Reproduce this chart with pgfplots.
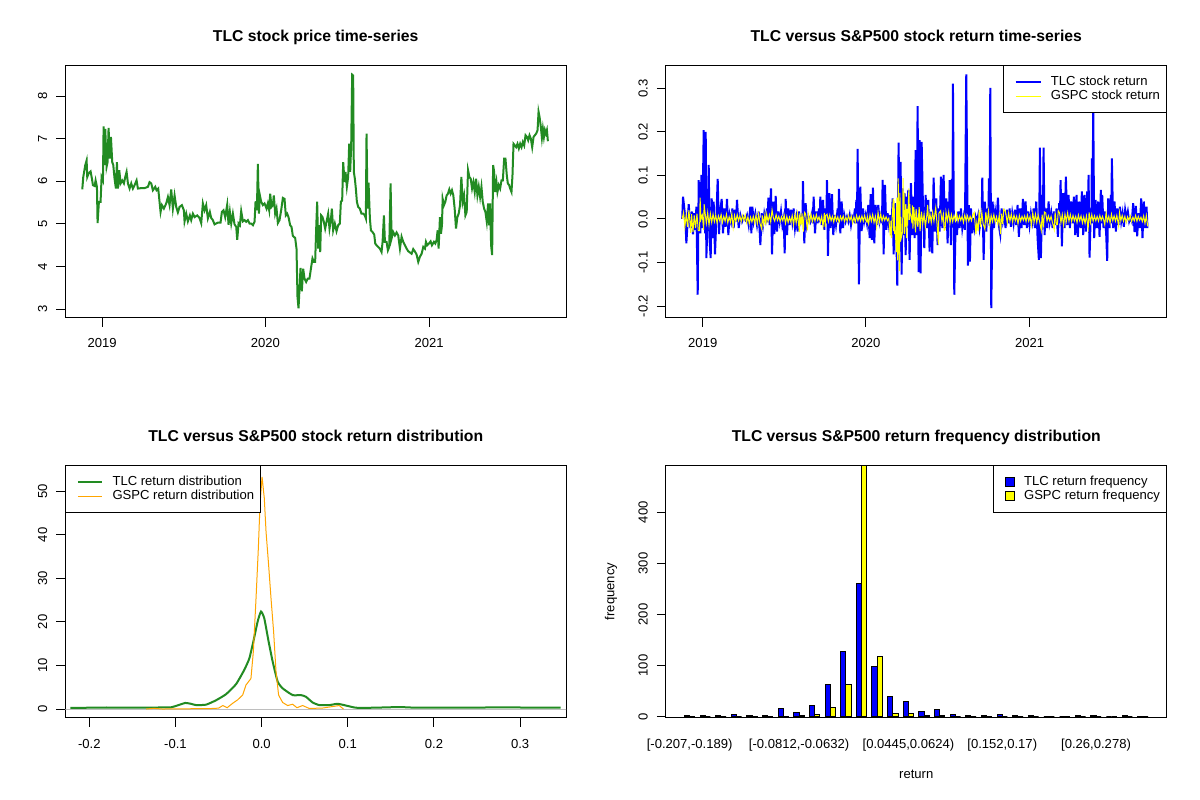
\documentclass[border=0pt]{standalone}
\usepackage{fontspec}
\setmainfont{Liberation Sans}
\usepackage{pgfplots}
\pgfplotsset{compat=1.18}
\definecolor{fgreen}{RGB}{34,139,34}
\definecolor{rorange}{RGB}{255,165,0}
\definecolor{rgray}{RGB}{190,190,190}
\definecolor{ryellow}{RGB}{255,255,0}
\definecolor{rblue}{RGB}{0,0,255}
\pgfplotsset{
  rp/.style={
    scale only axis, width=375.6pt, height=189.3pt, anchor=south west,
    axis line style={line width=0.75pt, black},
    tick style={line width=0.75pt, black},
    tick align=outside, tick pos=left, major tick length=6.75pt,
    tick label style={font=\fontsize{9.8}{11.8}\selectfont},
    xticklabel style={anchor=base},
    xticklabel shift=15.95pt,
    yticklabel style={rotate=90, anchor=base},
    yticklabel shift=7.0pt,
    title style={font=\fontsize{11.8}{14}\selectfont\bfseries, at={(0.5,1.0629)}, anchor=base, yshift=0pt},
    legend style={font=\fontsize{9.8}{11.8}\selectfont, draw=black, line width=0.75pt, fill=white,
      inner xsep=2.7pt, inner ysep=5.8pt, row sep=-2pt, column sep=5pt},
    legend cell align=left,
  },
}
\begin{document}
\begin{tikzpicture}
\path[use as bounding box, fill=white] (0,0) rectangle (900pt,600pt);

% ---------- Panel 1 ----------
\begin{axis}[rp, at={(49.0pt,361.7pt)},
  xmin=-82.5, xmax=1037.5, ymin=2.80, ymax=8.72,
  xtick={0,365,731}, xticklabels={2019,2020,2021},
  ytick={3,4,5,6,7,8}, yticklabels={3,4,5,6,7,8},
  title={TLC stock price time-series}]
\addplot[fgreen, line width=1.5pt, sharp plot] coordinates {
(-44.6,5.81) (-42.4,6.10) (-37.9,6.38) (-34.9,6.49) (-33.5,6.10) (-30.5,6.18) (-26.0,6.23) (-23.0,6.06) (-20.8,5.91) (-17.0,5.89) (-14.8,6.02) (-11.8,5.87) (-10.4,5.02) (-7.4,5.52) (-3.7,5.52) (-1.4,6.10) (1.6,6.02) (3.1,7.29) (5.3,6.38) (6.8,7.23) (9.8,6.34) (12.0,6.45) (14.2,7.25) (17.2,6.53) (19.5,7.04) (22.4,6.45) (24.7,6.38) (27.6,6.06) (30.6,5.83) (32.9,6.45) (35.1,5.83) (38.1,6.26) (41.1,5.95) (44.8,6.02) (48.5,5.95) (51.5,6.10) (54.5,6.22) (57.5,5.95) (61.2,5.83) (64.9,5.95) (68.6,5.83) (72.4,5.91) (76.8,6.02) (79.8,5.83) (87.3,5.84) (94.7,5.84) (102.2,5.87) (105.9,5.98) (109.6,5.95) (113.3,5.79) (118.6,5.87) (121.5,5.79) (125.2,5.83) (127.5,5.59) (130.5,5.28) (133.5,5.44) (137.9,5.36) (143.1,5.48) (146.9,5.63) (150.6,5.44) (154.3,5.81) (158.0,5.36) (161.8,5.67) (165.5,5.40) (169.2,5.27) (173.0,5.40) (178.2,5.44) (182.6,5.32) (184.1,5.06) (187.9,5.24) (191.6,5.06) (196.0,5.20) (199.0,5.09) (202.8,5.24) (206.5,5.16) (212.4,5.20) (217.6,5.14) (221.4,5.02) (225.1,5.48) (228.8,5.32) (232.5,5.44) (236.3,5.13) (240.7,5.28) (243.7,5.14) (247.4,5.09) (251.2,4.99) (258.6,5.03) (264.6,5.03) (267.6,5.28) (271.3,5.32) (275.0,5.16) (279.5,5.45) (282.5,4.98) (285.5,5.28) (288.5,5.01) (292.2,5.24) (295.9,4.99) (299.7,4.93) (301.9,4.63) (304.9,5.01) (307.9,4.97) (310.8,5.30) (314.6,5.06) (318.3,5.09) (322.0,5.05) (325.8,5.09) (329.5,5.01) (333.2,5.01) (337.0,4.97) (340.7,5.05) (342.9,5.53) (345.9,5.32) (348.1,6.41) (350.4,5.24) (352.6,5.67) (355.5,5.52) (359.3,5.44) (363.0,5.48) (367.5,5.36) (370.4,5.48) (373.4,5.32) (375.6,5.71) (378.6,5.40) (381.6,5.44) (383.8,5.67) (386.8,5.24) (389.8,5.36) (392.8,5.02) (396.5,5.09) (400.2,5.32) (404.0,5.61) (407.7,5.59) (410.6,5.20) (413.6,5.24) (416.6,5.16) (420.3,4.97) (423.3,4.93) (426.3,4.72) (431.5,4.67) (434.5,4.42) (436.7,3.29) (439.0,3.02) (441.2,3.48) (443.5,3.97) (446.4,3.42) (449.4,3.95) (452.4,3.72) (456.1,3.64) (459.8,3.72) (463.5,3.72) (467.3,3.99) (470.2,4.19) (473.2,4.11) (476.2,4.11)
(478.5,4.89) (480.7,5.52) (483.0,4.42) (485.2,4.97) (487.5,4.34) (489.7,5.20) (492.7,5.16) (495.6,5.05) (498.6,4.89) (501.6,5.05) (505.3,5.24) (508.3,4.89) (511.3,5.09) (513.6,5.36) (516.5,4.85) (520.2,5.01) (524.0,4.83) (527.7,4.97) (531.4,5.01) (533.7,5.52) (536.6,5.55) (538.9,6.45) (541.9,5.98) (544.1,6.22) (547.1,5.87) (550.0,6.10) (552.3,6.88) (554.5,6.22) (556.8,6.84) (559.0,8.50) (561.2,8.48) (562.7,6.22) (565.0,6.06) (567.2,5.83) (569.5,5.52) (572.4,5.40) (576.1,5.36) (579.9,5.24) (583.6,5.24) (587.3,5.20) (589.6,5.13) (591.1,7.12) (593.4,5.36) (595.6,5.97) (598.6,5.13) (600.9,4.85) (604.6,4.81) (608.3,4.75) (610.6,4.54) (613.5,4.50) (617.3,4.46) (621.0,4.42) (624.7,4.34) (627.0,4.58) (630.0,5.20) (632.2,4.58) (635.9,4.58) (638.9,4.38) (641.9,4.46) (644.9,5.95) (647.1,4.66) (650.8,4.81) (654.6,4.73) (658.3,4.80) (662.0,4.73) (665.8,4.42) (669.5,4.70) (673.2,4.58) (677.0,4.50) (680.7,4.42) (684.4,4.36) (688.2,4.33) (691.9,4.30) (695.6,4.41) (700.1,4.34) (703.1,4.28) (706.8,4.11) (710.5,4.23) (714.3,4.30) (718.0,4.46) (721.7,4.42) (724.0,4.58) (727.0,4.50) (730.7,4.54) (734.4,4.59) (737.4,4.50) (741.9,4.58) (744.9,4.54) (747.8,4.62) (750.1,4.85) (752.3,4.42) (755.3,5.16) (757.6,4.77) (759.8,4.97) (761.3,5.59) (764.3,5.44) (767.3,5.52) (770.3,5.67) (773.2,5.71) (776.2,5.81) (779.2,5.71) (782.2,5.79) (785.2,5.67) (788.2,5.36) (791.2,4.89) (794.2,5.16) (797.2,5.24) (800.2,5.44) (803.2,6.10) (806.2,5.52) (809.2,5.67) (812.2,5.20) (815.1,5.28) (818.1,6.26) (821.1,6.10) (824.1,6.06) (827.1,5.83) (830.1,5.98) (833.1,5.75) (836.1,6.06) (839.1,5.67) (842.1,5.87) (845.1,5.63) (848.1,5.87) (851.0,5.52) (854.0,5.36) (857.0,5.28) (860.0,5.05) (863.0,5.48) (865.2,4.97) (867.5,5.48) (869.7,4.50) (872.0,4.27) (874.2,6.38) (876.5,6.22) (878.7,5.75) (881.7,5.98) (883.9,5.75) (886.9,5.91) (889.9,5.83) (892.9,6.02) (895.9,6.02) (898.9,6.53) (901.8,6.53) (904.8,6.14) (907.1,5.95) (910.1,5.91) (912.3,5.83) (915.3,5.75) (917.5,6.14) (919.8,6.88) (922.8,6.84) (925.7,6.80) (928.7,6.88) (931.7,6.77) (934.7,6.88) (937.7,6.80) (940.7,6.92) (943.7,6.84) (946.7,7.08) (949.7,7.04) (952.6,6.96) (955.6,7.08) (958.6,7.00) (961.6,6.80) (964.6,7.04) (967.6,7.08) (970.6,7.12) (973.6,7.20) (975.8,7.63) (978.0,7.51) (981.0,7.27) (983.3,7.02) (985.5,7.23) (987.8,7.04) (990.0,7.20) (992.3,7.12) (994.5,7.20) (996.7,6.94)
};
\end{axis}

% ---------- Panel 2 ----------
\begin{axis}[rp, at={(499.4pt,361.7pt)},
  xmin=-82.5, xmax=1037.5, ymin=-0.2268, ymax=0.3528,
  xtick={0,365,731}, xticklabels={2019,2020,2021},
  ytick={-0.2,-0.1,0,0.1,0.2,0.3}, yticklabels={-0.2,-0.1,0.0,0.1,0.2,0.3},
  title={TLC versus S\&P500 stock return time-series},
  legend style={at={(1,1)}, anchor=north east},
  legend image code/.code={\path[draw=none,fill=none] (0pt,-2pt) rectangle (25pt,1pt); \draw[#1] (6.3pt,0pt) -- (25pt,0pt);}]
\addplot[rblue, line width=1.5pt, sharp plot] coordinates {
(-46,0.000) (-44.1,0.051) (-38.9,0.002) (-36.7,-0.056) (-31.4,0.034) (-27.7,-0.021) (-24.0,0.017) (-21.8,-0.035) (-18.8,0.013) (-16.5,-0.025) (-14.3,0.028) (-11.3,-0.174) (-9.1,0.089) (-5.4,-0.033) (-3.1,0.101) (-0.9,-0.021) (2.1,0.204) (5.1,-0.033) (6.6,0.200) (8.0,-0.090) (11.0,0.002) (13.3,0.124) (15.5,-0.052) (17.7,-0.090) (20.0,0.047) (22.2,-0.044) (24.4,0.040) (27.4,-0.081) (30.4,0.002) (33.4,0.092) (36.4,-0.035) (38.6,0.013) (42.3,0.046) (45.3,-0.033) (48.3,0.024) (51.3,-0.018) (54.2,0.046) (57.2,-0.037) (60.2,0.009) (63.2,-0.006) (66.2,0.024) (69.1,-0.021) (71.4,0.021) (74.4,-0.006) (76.6,0.044) (80.3,-0.021) (84.1,0.009) (87.8,-0.006) (91.5,0.005) (95.2,-0.002) (99.0,0.009) (102.7,-0.014) (106.4,0.028) (108.7,-0.033) (110.9,0.028) (113.9,-0.006) (117.6,0.013) (121.3,-0.014) (125.1,0.017) (128.8,-0.060) (131.8,0.013) (134.7,-0.014) (137.7,0.013) (140.7,-0.002) (143.7,0.024) (145.2,-0.008) (146.7,0.049) (149.6,-0.014) (152.6,0.070) (154.9,-0.081) (157.9,0.040) (160.1,-0.035) (163.1,0.053) (166.0,-0.029) (169.0,0.017) (172.0,-0.006) (175.0,0.017) (178.0,-0.014) (180.9,0.002) (183.2,-0.079) (185.4,0.046) (188.4,-0.037) (191.4,0.024) (194.4,-0.014) (197.3,0.021) (200.3,-0.006) (203.3,0.024) (206.3,-0.021) (209.3,0.002) (212.2,-0.029) (215.2,0.017) (218.2,-0.006) (221.9,0.009) (223.0,-0.010) (224.1,0.087) (227.1,-0.056) (230.1,0.036) (233.1,-0.014) (236.8,0.005) (240.5,-0.006) (244.3,0.013) (246.1,-0.010) (248.0,0.051) (251.0,-0.033) (254.0,0.017) (256.9,-0.010) (259.9,0.024) (261.4,-0.008) (262.9,0.051) (265.9,-0.014) (268.9,0.044) (271.8,-0.025) (274.8,0.024) (276.3,-0.010) (277.8,0.089) (280.0,-0.085) (283.0,0.059) (286.0,-0.021) (289.0,0.057) (291.9,-0.037) (294.9,0.009) (297.9,-0.014) (301.7,0.024) (303.2,-0.008) (304.6,0.069) (307.6,-0.033) (310.6,0.040) (313.6,-0.021) (316.5,0.009) (319.5,-0.006) (322.5,0.005) (325.5,-0.006) (328.5,0.009) (331.5,-0.014) (334.4,0.005) (337.4,-0.002) (340.4,0.024) (341.9,-0.010) (343.4,0.044) (344.9,-0.010) (346.3,0.161) (349.3,-0.150) (352.3,0.074) (355.3,-0.028) (358.3,0.024) (361.2,-0.006) (364.2,0.009) (367.2,-0.010) (370.2,0.032) (373.2,-0.044) (375.4,0.057) (378.4,-0.048) (380.6,0.072) (383.6,-0.056) (386.6,0.032) (389.6,-0.014) (392.5,0.032) (395.5,-0.006) (399.3,0.013) (400.8,-0.010) (402.3,0.090) (404.5,-0.081) (407.5,0.078) (410.5,-0.025) (413.4,0.013) (416.4,-0.014) (419.4,0.009) (421.6,-0.037) (424.6,0.047) (426.9,-0.081) (429.8,0.036) (432.8,-0.029) (435.0,-0.153) (438.0,0.175) (440.3,-0.075) (442.5,0.131) (444.7,-0.128) (447.0,0.070) (449.2,-0.037) (451.4,0.059) (453.7,-0.083) (456.7,0.051) (458.2,-0.010) (459.6,0.067) (462.6,-0.094) (465.6,0.082) (468.6,-0.037) (471.6,0.051) (473.8,-0.044) (476.0,0.158) (478.3,-0.037) (480.5,0.259) (482.7,-0.122) (485.0,0.181) (487.2,-0.125) (489.5,0.177)
(492.4,0.032) (495.4,-0.067) (498.4,0.055) (501.4,-0.021) (504.3,0.044) (507.3,-0.075) (510.3,0.017) (513.3,-0.079) (516.3,0.095) (519.3,-0.029) (522.2,0.047) (525.2,-0.060) (527.5,0.024) (529.7,-0.029) (532.7,0.097) (535.7,-0.021) (538.6,0.101) (541.6,-0.021) (544.6,0.047) (547.6,-0.056) (549.8,0.040) (551.0,-0.010) (552.1,0.089) (555.0,-0.060) (557.3,0.092) (558.4,-0.020) (559.5,0.311) (562.5,-0.174) (565.5,-0.006) (568.5,-0.037) (571.4,0.017) (574.4,-0.021) (577.4,0.024) (580.4,-0.021) (583.4,0.002) (586.3,-0.025) (589.3,0.332) (593.1,-0.107) (595.3,0.032) (597.5,-0.098) (599.8,0.024) (602.0,-0.033) (604.2,0.002) (607.2,-0.021) (610.2,0.005) (613.2,-0.006) (616.1,0.009) (619.1,-0.021) (622.1,0.002) (623.6,-0.012) (625.1,0.095) (628.1,-0.094) (631.0,0.040) (634.0,-0.029) (637.0,0.024) (638.5,-0.010) (640.0,0.093) (641.5,-0.015) (643.0,0.301) (645.2,-0.205) (648.2,0.040) (651.2,-0.021) (654.1,0.017) (657.1,-0.006) (660.1,0.049) (663.1,-0.021) (665.3,-0.035) (668.3,0.024) (671.3,-0.006) (674.2,0.009) (677.2,-0.021) (680.2,0.021) (683.2,-0.010) (686.2,0.024) (689.2,-0.018) (692.1,0.013) (695.1,-0.010) (698.1,0.021) (701.1,-0.014) (704.1,0.032) (707.0,-0.041) (710.0,0.024) (713.0,-0.021) (716.0,0.046) (719.0,-0.014) (721.9,0.040) (724.9,-0.021) (727.9,0.017) (730.9,-0.014) (733.9,0.013) (736.8,-0.006) (739.8,0.024) (742.8,-0.021) (745.8,0.040) (748.8,-0.044) (751.7,-0.094) (754.0,0.164) (756.2,-0.090) (759.2,0.055) (760.7,-0.010) (762.2,0.164) (764.4,-0.037) (767.4,0.024) (770.4,-0.021) (773.4,0.040) (776.3,-0.006) (779.3,0.013) (782.3,-0.021) (785.3,0.017) (788.3,-0.014) (791.2,0.024) (794.2,-0.041) (797.2,0.036) (798.7,-0.010) (800.2,0.089) (803.2,-0.063) (806.1,0.059) (809.1,-0.021) (812.1,0.097) (815.1,-0.014) (818.1,0.055) (821.0,-0.021) (824.0,0.040) (827.0,-0.010) (830.0,0.051) (833.0,-0.037) (835.9,0.055) (838.9,-0.041) (841.9,0.040) (844.9,-0.021) (847.9,0.063) (850.8,-0.037) (853.8,0.055) (856.8,-0.029) (859.8,0.063) (861.3,-0.010) (862.8,0.101) (865.0,-0.089) (868.0,0.024) (869.1,-0.010) (870.2,0.139) (871.7,-0.010) (873.2,0.270) (875.4,-0.044) (878.4,0.044) (881.4,-0.021) (884.4,0.040) (887.4,-0.041) (890.3,0.067) (891.8,-0.010) (893.3,0.055) (896.3,-0.021) (899.3,0.017) (902.3,-0.037) (904.5,-0.096) (906.7,0.047) (909.7,-0.021) (912.7,0.055) (913.8,-0.010) (914.9,0.139) (917.9,-0.021) (920.9,0.040) (923.9,-0.029) (926.8,0.024) (929.8,-0.014) (932.8,0.028) (935.8,-0.006) (938.8,0.013) (941.7,-0.018) (944.7,0.021) (947.7,0.002) (950.7,0.017) (953.7,-0.006) (956.6,0.002) (959.6,-0.006) (962.6,0.036) (965.6,-0.030) (968.6,0.030) (971.5,-0.040) (974.5,0.013) (977.5,-0.021) (980.5,0.047) (983.4,-0.044) (986.4,0.040) (989.4,-0.021) (992.4,0.028) (994.6,-0.021)
};
\addlegendentry{TLC stock return}
\addplot[ryellow, line width=0.75pt, sharp plot] coordinates {
(-46,0.000) (-43,0.015) (-40,-0.018) (-37,0.010) (-34,-0.018) (-31,0.020) (-28,-0.015) (-27,-0.032) (-25,0.011) (-22,-0.030) (-19,0.008) (-16,-0.021) (-13,0.012) (-10,-0.027) (-7,-0.027) (-6,0.049) (-4,-0.001) (-1,0.009) (2,-0.025) (3,0.034) (6,0.007) (8,-0.010) (11,0.015) (14,-0.014) (17,0.012) (20,-0.008)
(23,0.011) (26,-0.006) (29,0.009) (32,-0.009) (35,0.007) (38,-0.004) (41,0.010) (44,-0.008) (47,0.006) (50,-0.005) (53,0.011) (56,-0.009) (59,0.005) (62,-0.007) (65,0.012) (68,-0.019) (71,0.008) (74,-0.006) (77,0.010) (80,-0.004) (83,0.007) (86,-0.006) (89,0.008) (92,-0.003) (95,0.009) (98,-0.008) (101,0.005) (104,-0.011) (107,0.004) (110,-0.007) (113,0.006) (116,-0.009) (119,0.009) (122,-0.011) (125,0.012) (128,-0.010) (132,-0.024) (133,0.008) (136,-0.012) (139,0.010) (141,-0.013) (143,0.011) (146,-0.006) (149,0.009) (152,-0.007) (155,0.021) (158,0.002) (161,-0.005) (164,0.010) (167,-0.003) (170,0.006) (173,-0.006) (176,0.005) (179,-0.004) (182,0.009) (185,-0.010) (188,0.006) (191,-0.008) (194,0.004) (197,-0.007) (200,0.008) (203,-0.013) (206,0.011) (209,-0.009) (212,0.013) (216,-0.030) (217,0.013) (220,-0.014) (222,0.013) (225,-0.029) (226,0.002) (228,0.015) (230,0.011) (234,-0.026) (236,0.011) (239,-0.008) (242,0.011) (245,-0.006) (248,0.007) (251,-0.005) (254,0.010) (257,-0.003) (260,0.005) (263,-0.008) (266,0.006) (269,-0.017) (272,0.014) (274,-0.018) (275,0.008) (278,0.011) (281,-0.006) (284,0.009) (287,-0.004) (290,0.006) (293,-0.007) (296,0.008) (299,-0.004) (302,0.005) (305,-0.008) (308,0.006) (311,-0.003) (314,0.007) (317,-0.006) (320,0.004) (323,-0.005) (326,0.008) (329,-0.003) (332,0.006) (335,-0.009) (338,0.005) (341,-0.007) (344,0.008) (347,-0.004) (350,0.006) (353,-0.005) (356,0.007) (359,-0.005) (362,0.008) (365,-0.004) (367,-0.007) (368,0.006) (371,-0.011) (374,0.009) (377,-0.005) (380,0.010) (383,-0.008) (386,0.006) (389,-0.018) (392,0.015) (395,-0.007) (398,0.011) (401,-0.005) (404,0.007) (407,-0.003) (410,0.005) (413,-0.004) (416,0.002)
(419,-0.034) (420,-0.030) (421,-0.004) (422,-0.044) (423,-0.008) (426,0.046) (427,-0.028) (428,0.042) (429,-0.034) (430,-0.017) (433,-0.076) (434,0.049) (435,-0.049) (436,-0.095) (437,0.093) (440,-0.120) (441,0.060) (442,-0.052) (443,0.005) (444,-0.043) (447,-0.029) (448,0.094) (449,0.011) (450,0.062) (451,-0.034) (454,0.034) (455,-0.016) (456,-0.044) (457,0.023) (458,-0.015) (461,0.070) (462,-0.002) (463,0.034) (464,0.014) (468,-0.010) (469,0.031) (470,-0.022) (471,0.006) (472,0.027) (475,-0.018) (476,-0.031) (477,0.023)
(478,0.014) (481,-0.018) (484,0.027) (486,-0.028) (489,0.017) (492,-0.010) (495,0.011) (498,-0.018) (501,0.008) (503,0.032) (505,-0.010) (508,0.012) (511,-0.008) (514,0.015) (517,-0.005) (521,0.026) (524,-0.012) (527,-0.059) (528,0.013) (532,0.019) (535,-0.006) (538,0.011) (540,-0.026) (542,-0.024) (544,0.015) (547,-0.004) (550,0.016) (553,-0.009) (556,0.010) (559,-0.006) (562,0.008) (565,-0.004) (568,0.012) (571,-0.006) (574,0.007) (577,-0.003) (580,0.006) (583,-0.008) (586,0.009) (589,-0.004) (592,0.007) (595,-0.005) (598,0.006) (601,-0.004) (604,0.010) (607,0.015) (611,-0.035) (613,-0.008) (616,-0.028) (618,0.020) (621,-0.018) (624,0.015) (627,-0.011) (631,-0.024) (633,0.016) (636,-0.009) (639,0.018) (642,-0.014) (645,0.008) (648,-0.006) (651,0.010) (654,-0.007) (657,0.005) (660,-0.012) (663,0.009) (666,-0.035) (668,0.012) (671,-0.012) (673,0.022) (676,0.019) (678,0.012) (681,-0.010) (684,0.014) (687,-0.005) (690,0.011) (693,-0.007) (696,0.009) (699,-0.004) (702,0.006) (705,-0.011) (708,0.008) (711,-0.005) (714,0.006) (717,-0.003) (720,0.007) (723,-0.006) (726,0.009) (729,-0.005) (732,0.006) (735,-0.015) (738,0.014) (741,-0.007) (744,0.011) (747,-0.008) (750,0.009) (753,-0.004) (757,-0.026) (759,0.010) (762,-0.019) (764,0.016) (767,0.014) (770,-0.005) (773,0.007) (776,-0.004) (779,0.006) (782,-0.008) (786,-0.024) (788,0.015) (791,-0.013) (793,-0.013) (795,0.019) (798,0.014) (801,-0.008) (804,0.010) (807,-0.015) (810,0.011) (813,-0.006) (816,0.014) (819,-0.005) (822,0.010) (825,-0.006) (828,0.008) (831,-0.004) (834,0.006) (837,-0.008) (840,0.009) (843,-0.004) (846,0.007) (849,-0.009) (852,0.005) (855,-0.010) (858,0.007) (862,-0.021) (864,0.015) (867,-0.008) (870,0.010) (873,-0.005) (876,0.007) (879,-0.004) (882,0.006) (885,-0.005) (888,0.008) (891,-0.003) (894,0.006) (897,-0.004) (899,-0.013) (902,0.014) (905,-0.005) (908,0.006) (911,-0.009) (914,0.011) (917,-0.004) (920,0.007) (923,-0.005) (926,0.008) (930,-0.016) (932,0.015) (935,-0.004) (938,0.008) (941,-0.005) (944,0.006) (947,-0.008) (950,0.005) (953,-0.003) (956,0.007) (959,-0.006) (962,0.004) (965,-0.004) (968,0.008) (971,-0.005) (974,0.006) (977,-0.003) (980,0.004) (983,-0.006) (986,0.007) (989,-0.010) (992,0.008) (995,-0.017)
};
\addlegendentry{GSPC stock return}
\end{axis}

% ---------- Panel 3 ----------
\begin{axis}[rp, at={(49.0pt,61.7pt)},
  xmin=-0.2278, xmax=0.3534, ymin=-2.0, ymax=55.95,
  xtick={-0.2,-0.1,0,0.1,0.2,0.3}, xticklabels={-0.2,-0.1,0.0,0.1,0.2,0.3},
  ytick={0,10,20,30,40,50}, yticklabels={0,10,20,30,40,50},
  title={TLC versus S\&P500 stock return distribution},
  legend style={at={(0,1)}, anchor=north west},
  legend image code/.code={\path[draw=none,fill=none] (0pt,-2pt) rectangle (25pt,1pt); \draw[#1] (6.3pt,0pt) -- (24.6pt,0pt);}]
\addplot[rgray, line width=0.75pt, forget plot] coordinates {(-0.3,0) (0.4,0)};
\addplot[fgreen, line width=1.5pt, smooth, tension=0.3] coordinates {
(-0.222,0.25) (-0.20,0.3) (-0.18,0.35) (-0.16,0.3) (-0.14,0.3) (-0.12,0.35) (-0.105,0.4) (-0.095,1.0) (-0.0886,1.4) (-0.082,1.2) (-0.076,0.9) (-0.0645,1.0) (-0.053,2.0) (-0.0413,3.4) (-0.0297,5.7) (-0.0201,9.0) (-0.0143,11.6) (-0.0096,15.5) (-0.0046,20.1) (-0.0007,22.4) (0.0031,20.8) (0.0081,15.5) (0.0128,10.9) (0.0186,6.3) (0.0244,4.75) (0.036,3.2) (0.0457,3.2) (0.0515,2.8) (0.0592,1.5) (0.067,0.9) (0.0785,0.9) (0.0882,1.2) (0.0979,0.8) (0.1095,0.3) (0.13,0.3) (0.16,0.45) (0.18,0.3) (0.22,0.3) (0.26,0.35) (0.30,0.35) (0.347,0.3)
};
\addlegendentry{TLC return distribution}
\addplot[rorange, line width=0.75pt, sharp plot] coordinates {
(-0.134,0.0) (-0.125,0.15) (-0.115,0.0) (-0.09,0.05) (-0.06,0.1) (-0.05,0.2) (-0.045,0.8) (-0.040,0.3) (-0.0337,1.3) (-0.0279,2.1) (-0.022,3.2) (-0.0182,5.5) (-0.0124,7.0) (-0.0096,13.2) (-0.0065,25.4) (-0.0038,36.9) (-0.0019,46.9) (0.0005,53.3) (0.0031,48.4) (0.0051,40.8) (0.0081,33.1) (0.0109,25.4) (0.0139,17.8) (0.0167,8.6) (0.0197,3.2) (0.0244,1.5) (0.0302,0.8) (0.036,1.1) (0.041,0.3) (0.0476,0.8) (0.055,0.15) (0.07,0.2) (0.09,0.8) (0.095,0.0)
};
\addlegendentry{GSPC return distribution}
\end{axis}

% ---------- Panel 4 ----------
\begin{axis}[rp, at={(499.4pt,61.7pt)},
  xmin=-2.56, xmax=93.56, ymin=-2, ymax=492,
  xtick={2,23,44,62,80},
  xticklabels={{[-0.207,-0.189)},{[-0.0812,-0.0632)},{[0.0445,0.0624)},{[0.152,0.17)},{[0.26,0.278)}},
  x tick style={draw=none},
  ytick={0,100,200,300,400}, yticklabels={0,100,200,300,400},
  title={TLC versus S\&P500 return frequency distribution},
  xlabel={return}, ylabel={frequency},
  label style={font=\fontsize{9.8}{11.8}\selectfont},
  xlabel style={at={(axis description cs:0.5,-0.2258)}, anchor=center},
  ylabel style={at={(axis description cs:-0.1098,0.5)}, anchor=center},
  legend style={at={(1,1)}, anchor=north east},
  legend image code/.code={\path[draw=none,fill=none] (0pt,-3.2pt) rectangle (13.5pt,2.2pt); \draw[#1] (6.7pt,-3.2pt) rectangle (13.1pt,3.2pt);}]
\addplot[ybar, bar width=1, bar shift=0pt, fill=rblue, draw=black, line width=0.75pt] coordinates {
(1.5,2) (4.5,2) (7.5,2) (10.5,4) (13.5,2) (16.5,2) (19.5,16) (22.5,8) (25.5,22) (28.5,63) (31.5,127) (34.5,261) (37.5,98) (40.5,39) (43.5,29) (46.5,10) (49.5,14) (52.5,4) (55.5,2) (58.5,2) (61.5,4) (64.5,2) (67.5,2) (70.5,0) (73.5,0) (76.5,2) (79.5,2) (82.5,0) (85.5,2) (88.5,1)
};
\addlegendentry{TLC return frequency}
\addplot[ybar, bar width=1, bar shift=0pt, fill=ryellow, draw=black, line width=0.75pt] coordinates {
(2.5,0) (5.5,0) (8.5,0) (11.5,0) (14.5,1) (17.5,1) (20.5,1) (23.5,2) (26.5,4) (29.5,18) (32.5,63) (35.5,492) (38.5,118) (41.5,6) (44.5,6) (47.5,2) (50.5,2) (53.5,0) (56.5,0) (59.5,0) (62.5,0) (65.5,0) (68.5,0) (71.5,0) (74.5,0) (77.5,0) (80.5,0) (83.5,0) (86.5,0) (89.5,0)
};
\addlegendentry{GSPC return frequency}
\end{axis}
\end{tikzpicture}
\end{document}
